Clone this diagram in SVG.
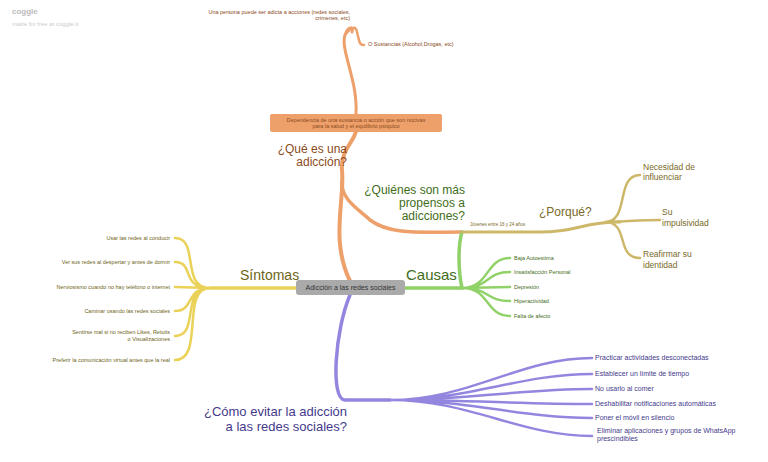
<svg xmlns="http://www.w3.org/2000/svg" width="768" height="462" viewBox="0 0 768 462">
<style>
text{font-family:"Liberation Sans",Arial,sans-serif}
.s{font-size:5.5px}
.o{fill:#8a4a1c}.y{fill:#6e6420}.g{fill:#3f6d20}.k{fill:#7a6a28}.p{fill:#443a8c}
.lo{stroke:#eea06b;fill:none;stroke-linecap:round}
.ly{stroke:#e9d257;fill:none;stroke-linecap:round}
.lg{stroke:#90d168;fill:none;stroke-linecap:round}
.lk{stroke:#cdb869;fill:none;stroke-linecap:round}
.lp{stroke:#9286df;fill:none;stroke-linecap:round}
</style>
<rect width="768" height="462" fill="#fff"/>
<text x="12" y="14" font-size="8" font-weight="bold" fill="#bbb">coggle</text>
<text x="12" y="26" font-size="6" fill="#ccc">made for free at coggle.it</text>
<g id="connectors">
<path class="lo" stroke-width="4" d="M350 281 C 330 240, 345 200, 342 170 C 340 150, 356 140, 356 130"/>
<path class="lo" stroke-width="3" d="M356 114 C 358 80, 340 50, 345 35 C 348 26, 354 26, 352 32"/>
<path class="lo" stroke-width="2.5" d="M345 35 C 352 26, 356 26, 357 32 C 360 45, 360 45, 364 45"/>
<path class="lo" stroke-width="3.5" d="M342 180 C 340 200, 360 210, 370 220 C 390 235, 420 232, 462 232"/>
<path class="lg" stroke-width="3.5" d="M405 288 L 462 288 C 458 270, 458 245, 462 232"/>
<path class="lg" stroke-width="2.5" d="M462 288 C 490 288, 485 258, 510 258 M462 288 C 490 288, 485 272, 510 272 M462 288 L 510 287 M462 288 C 490 288, 485 301, 510 301 M462 288 C 490 288, 485 316, 510 316"/>
<path class="lk" stroke-width="3" d="M462 232 L 540 232 C 580 232, 580 222, 620 222"/>
<path class="lk" stroke-width="2.5" d="M605 222 C 630 222, 615 175, 640 175 M605 222 C 620 222, 640 220, 660 220 M605 222 C 630 222, 615 258, 640 258"/>
<path class="ly" stroke-width="3.5" d="M296 288 L 210 288"/>
<path class="ly" stroke-width="2.5" d="M210 288 C 180 288, 200 238, 175 238 M210 288 C 180 288, 195 262, 175 262 M210 288 L 175 287 M210 288 C 185 288, 195 311, 175 311 M210 288 C 180 288, 200 336, 175 336 M210 288 C 180 288, 205 360, 175 360"/>
<path class="lp" stroke-width="3.5" d="M350 295 C 335 330, 330 400, 345 400 L 390 400"/>
<path class="lp" stroke-width="2.5" d="M390 400 C 470 400, 520 358, 592 358 M390 400 C 470 400, 520 374, 592 374 M390 400 C 470 400, 520 389, 592 389 M390 400 C 470 400, 520 404, 592 404 M390 400 C 470 400, 520 418, 592 418 M390 400 C 470 400, 520 436, 592 436"/>
</g>
<g id="center"><rect x="296" y="280" width="109" height="15" rx="3" fill="#aaa"/><text x="350.5" y="290" font-size="7" text-anchor="middle" fill="#333">Adicción a las redes sociales</text></g>
<g id="que"><text x="347" y="153" font-size="12" text-anchor="end" class="o"><tspan x="347">¿Qué es una</tspan><tspan x="347" dy="13">adicción?</tspan></text></g>
<g id="dependencia"><rect x="270" y="114" width="172" height="18" rx="2" fill="#eea06b"/><text x="356" y="121.5" class="s o" text-anchor="middle"><tspan x="356">Dependencia de una sustancia o acción que son nocivas</tspan><tspan x="356" dy="6">para la salud y el equilibrio psíquico</tspan></text></g>
<g id="persona"><text x="350" y="14" class="s o" text-anchor="end"><tspan x="350">Una persona puede ser adicta a acciones (redes sociales,</tspan><tspan x="350" dy="6">crímenes, etc)</tspan></text></g>
<g id="sustancias"><text x="368" y="46" class="s o">O Sustancias (Alcohol,Drogas, etc)</text></g>
<g id="quienes"><text x="465" y="194" font-size="12" text-anchor="end" class="g"><tspan x="465">¿Quiénes son más</tspan><tspan x="465" dy="13">propensos a</tspan><tspan x="465" dy="13">adicciones?</tspan></text></g>
<g id="jovenes"><text x="470" y="226" font-size="4.5" class="k">Jóvenes entre 16 y 24 años</text></g>
<g id="porque"><text x="539" y="216" font-size="12" class="k">¿Porqué?</text></g>
<g id="necesidad"><text x="643" y="170" font-size="8.5" class="k"><tspan x="643">Necesidad de</tspan><tspan x="643" dy="10">influenciar</tspan></text></g>
<g id="impulsividad"><text x="662" y="215" font-size="8.5" class="k"><tspan x="662">Su</tspan><tspan x="662" dy="11">impulsividad</tspan></text></g>
<g id="reafirmar"><text x="643" y="257" font-size="8.5" class="k"><tspan x="643">Reafirmar su</tspan><tspan x="643" dy="11">identidad</tspan></text></g>
<g id="causas"><text x="406" y="280" font-size="15" class="g">Causas</text></g>
<g id="c1"><text x="514" y="260" class="s g">Baja Autoestima</text></g>
<g id="c2"><text x="514" y="274" class="s g">Insatisfacción Personal</text></g>
<g id="c3"><text x="514" y="289" class="s g">Depresión</text></g>
<g id="c4"><text x="514" y="303" class="s g">Hiperactividad</text></g>
<g id="c5"><text x="514" y="318" class="s g">Falta de afecto</text></g>
<g id="sintomas"><text x="240" y="280" font-size="14" class="y">Síntomas</text></g>
<g id="s1"><text x="170" y="240" class="s y" text-anchor="end">Usar las redes al conducir</text></g>
<g id="s2"><text x="170" y="264" class="s y" text-anchor="end">Ver sus redes al despertar y antes de dormir</text></g>
<g id="s3"><text x="170" y="289" class="s y" text-anchor="end">Nerviosismo cuando no hay teléfono o internet</text></g>
<g id="s4"><text x="170" y="313" class="s y" text-anchor="end">Caminar usando las redes sociales</text></g>
<g id="s5"><text x="170" y="334" class="s y" text-anchor="end"><tspan x="170">Sentirse mal si no reciben Likes, Retuits</tspan><tspan x="170" dy="7">o Visualizaciones</tspan></text></g>
<g id="s6"><text x="170" y="362" class="s y" text-anchor="end">Preferir la comunicación virtual antes que la real</text></g>
<g id="como"><text x="347" y="416" font-size="13" text-anchor="end" class="p"><tspan x="347">¿Cómo evitar la adicción</tspan><tspan x="347" dy="15">a las redes sociales?</tspan></text></g>
<g id="p1"><text x="595" y="360" font-size="7" class="p">Practicar actividades desconectadas</text></g>
<g id="p2"><text x="595" y="376" font-size="7" class="p">Establecer un límite de tiempo</text></g>
<g id="p3"><text x="595" y="391" font-size="7" class="p">No usarlo al comer</text></g>
<g id="p4"><text x="595" y="406" font-size="7" class="p">Deshabilitar notificaciones automáticas</text></g>
<g id="p5"><text x="595" y="420" font-size="7" class="p">Poner el móvil en silencio</text></g>
<g id="p6"><text x="597" y="433" font-size="7" class="p"><tspan x="597">Eliminar aplicaciones y grupos de WhatsApp</tspan><tspan x="597" dy="8">prescindibles</tspan></text></g>
</svg>
